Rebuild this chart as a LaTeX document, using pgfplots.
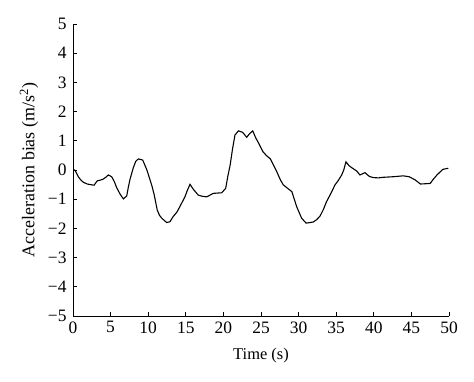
\documentclass[border=0pt]{standalone}
\usepackage{fontspec}
\setmainfont{Liberation Serif}
\usepackage{pgfplots}
\pgfplotsset{compat=1.18}
\begin{document}
\begin{tikzpicture}
\begin{axis}[
  scale only axis,
  width=376bp, height=292bp,
  xmin=0, xmax=50, ymin=-5, ymax=5,
  axis x line*=bottom, axis y line*=left,
  xtick={0,5,...,50}, ytick={-5,-4,...,5},
  xticklabels={0,5,10,15,20,25,30,35,40,45,50},
  yticklabels={−5,−4,−3,−2,−1,0,1,2,3,4,5},
  tick align=inside,
  major tick length=4bp,
  tick style={black, line width=0.8pt},
  axis line style={black, line width=0.8pt},
  ticklabel style={font=\fontsize{17.5}{19}\selectfont},
  xticklabel style={yshift=-2bp},
  yticklabel style={xshift=-3bp},
  xlabel style={font=\fontsize{16.5}{18}\selectfont, yshift=-8bp},
  ylabel style={font=\fontsize{18}{20}\selectfont, yshift=3bp},
  xlabel={Time (s)},
  ylabel={Acceleration bias (m/s\textsuperscript{2})},
]
\addplot[black, line width=1.1pt] coordinates {
(0.04,0.02) (0.3,-0.02) (0.7,-0.23) (1.0,-0.33) (1.37,-0.42) (1.9,-0.48) (2.3,-0.5) (2.8,-0.52)
(3.23,-0.37) (3.6,-0.35) (4.03,-0.31) (4.4,-0.24) (4.7,-0.17) (5.14,-0.23) (5.5,-0.4) (5.8,-0.6) (6.25,-0.82)
(6.7,-0.99) (7.14,-0.89) (7.35,-0.6) (7.58,-0.32) (8.02,0.08) (8.35,0.3) (8.7,0.38) (9.27,0.34)
(9.8,0.02) (10.2,-0.3) (10.5,-0.55) (10.8,-0.85) (11.2,-1.37) (11.5,-1.55) (11.8,-1.65) (12.46,-1.8)
(12.9,-1.77) (13.3,-1.6) (13.56,-1.52) (13.8,-1.45) (14.2,-1.26) (14.9,-0.91) (15.2,-0.7) (15.56,-0.49) (16.0,-0.66)
(16.66,-0.86) (17.2,-0.9) (17.78,-0.92) (18.66,-0.8) (19.2,-0.79) (19.77,-0.78) (20.3,-0.63) (20.6,-0.2) (20.9,0.17)
(21.2,0.7) (21.54,1.2) (22.0,1.34) (22.56,1.29) (23.1,1.12) (23.5,1.25) (23.9,1.34) (24.3,1.1) (24.64,0.94)
(25.25,0.63) (25.7,0.5) (26.25,0.38) (26.7,0.15) (27.1,-0.06) (27.6,-0.35) (27.97,-0.51) (28.5,-0.62) (29.1,-0.74) (29.75,-1.26)
(30.4,-1.65) (31.0,-1.82) (31.5,-1.8) (31.96,-1.78) (32.4,-1.7) (32.85,-1.58) (33.3,-1.35) (33.7,-1.09) (34.3,-0.8) (34.84,-0.51)
(35.3,-0.35) (35.73,-0.17) (36.0,0.0) (36.3,0.28) (36.7,0.15) (37.06,0.08) (37.7,-0.03) (38.16,-0.17) (38.83,-0.09)
(39.4,-0.22) (39.94,-0.26) (40.6,-0.27) (41.26,-0.25) (42.6,-0.23) (43.9,-0.2) (44.7,-0.23) (45.5,-0.34)
(46.2,-0.48) (46.9,-0.47) (47.5,-0.46) (47.9,-0.32) (48.4,-0.17) (49.16,0.02) (49.9,0.06)
};
\end{axis}
\path ([shift={(-73bp,-65bp)}]current axis.south west) rectangle ([shift={(25bp,24bp)}]current axis.north east);
\end{tikzpicture}
\end{document}
